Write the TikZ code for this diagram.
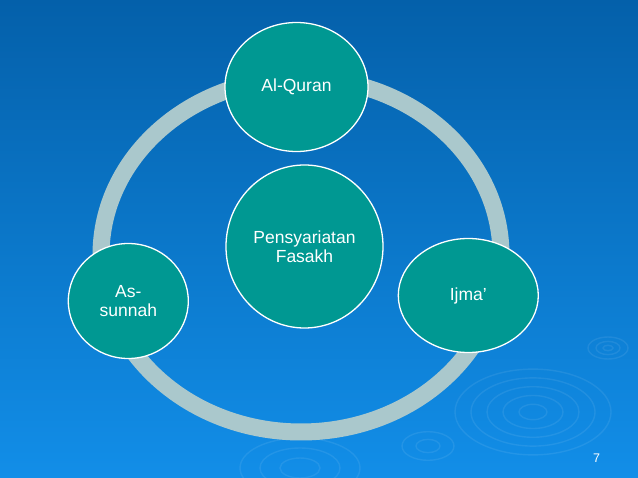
\documentclass[tikz,border=0pt]{standalone}
\usepackage{fontspec}
\setmainfont{Liberation Sans}
\usetikzlibrary{shapes.geometric}
\definecolor{bgtop}{RGB}{4,96,170}
\definecolor{bgmid}{RGB}{6,112,196}
\definecolor{bgbot}{RGB}{18,142,232}
\definecolor{ringcol}{RGB}{170,200,204}
\definecolor{tealfill}{RGB}{0,152,146}
\tikzset{
  bubble/.style={ellipse, draw=white, line width=1.3pt, fill=tealfill, text=white,
    inner sep=0pt, align=center, font=\fontsize{17.5}{18.5}\selectfont},
  ripple/.style={draw=white, draw opacity=0.08, line width=1.4pt},
  pagenum/.style={text=white, font=\fontsize{12.5}{14}\selectfont, inner sep=0pt}
}
\begin{document}
\begin{tikzpicture}[x=1pt,y=-1pt]
\useasboundingbox (0,0) rectangle (638,478);
\shade[top color=bgtop, middle color=bgmid, bottom color=bgbot] (0,0) rectangle (638,478);
% ripples
\foreach \r in {5,12,20} \draw[ripple] (608,348) ellipse ({\r} and {0.55*\r});
\foreach \r in {14,30,46,62,78} \draw[ripple] (533,412) ellipse ({\r} and {0.55*\r});
\foreach \r in {20,40,60} \draw[ripple] (300,468) ellipse ({\r} and {0.5*\r});
\foreach \r in {12,26} \draw[ripple] (428,446) ellipse ({\r} and {0.55*\r});
% ring
\draw[ringcol, line width=17pt] (301,255) ellipse (200 and 177);
% nodes
\node[bubble, minimum width=143pt, minimum height=129pt] (quran) at (296.5,87) {Al-Quran};
\node[bubble, minimum width=157pt, minimum height=163pt] (fasakh) at (304.5,246.5) {Pensyariatan\\Fasakh};
\node[bubble, minimum width=120pt, minimum height=115pt] (sunnah) at (128.3,301) {As-\\sunnah};
\node[bubble, minimum width=140pt, minimum height=114pt] (ijma) at (468.3,295.5) {Ijma’};
\node[pagenum] (page) at (596.5,458) {7};
\end{tikzpicture}
\end{document}
